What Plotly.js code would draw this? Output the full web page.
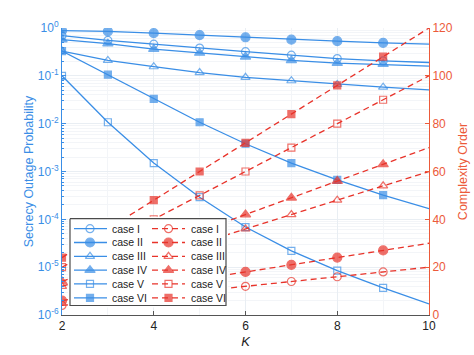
<!DOCTYPE html>
<html>
<head>
<meta charset="utf-8">
<script src="https://cdn.plot.ly/plotly-3.0.1.min.js"></script>
<style>html,body{margin:0;padding:0;background:#fff;}#chart{width:474px;height:355px;}</style>
</head>
<body>
<div id="chart"></div>
<script>
// ---- data ----
const K = [2, 3, 4, 5, 6, 7, 8, 9, 10];
const caseNames = ['case I', 'case II', 'case III', 'case IV', 'case V', 'case VI'];
// Secrecy outage probability (left, log axis)
const sopI   = [0.69, 0.55, 0.46, 0.38, 0.32, 0.27, 0.23, 0.205, 0.19];
const sopII  = [0.88, 0.85, 0.78, 0.71, 0.64, 0.57, 0.53, 0.49, 0.46];
const sopIII = [0.33, 0.21, 0.155, 0.117, 0.093, 0.079, 0.066, 0.058, 0.051];
const sopIV  = [0.57, 0.47, 0.36, 0.30, 0.25, 0.21, 0.185, 0.175, 0.16];
const sopV   = [0.1, 0.0107, 1.5e-3, 2.9e-4, 6.9e-5, 2.2e-5, 8.5e-6, 3.7e-6, 1.7e-6];
const sopVI  = [0.33, 0.106, 0.033, 0.0107, 3.8e-3, 1.5e-3, 6.7e-4, 3.2e-4, 1.67e-4];
// Complexity order (right, linear axis)
const cxI   = [4, 6, 8, 10, 12, 14, 16, 18, 20];
const cxII  = [6, 9, 12, 15, 18, 21, 24, 27, 30];
const cxIII = [12, 18, 24, 30, 36, 42, 48, 54, 60];
const cxIV  = [14, 21, 28, 35, 42, 49, 56, 63, 70];
const cxV   = [20, 30, 40, 50, 60, 70, 80, 90, 100];
const cxVI  = [24, 36, 48, 60, 72, 84, 96, 108, 120];
// left-axis tick labels
const sopTickVals = [1e-6, 1e-5, 1e-4, 1e-3, 1e-2, 1e-1, 1];
const sopTickText = ['10<sup>-6</sup>', '10<sup>-5</sup>', '10<sup>-4</sup>', '10<sup>-3</sup>', '10<sup>-2</sup>', '10<sup>-1</sup>', '10<sup>0</sup>'];

const sopSeries = [sopI, sopII, sopIII, sopIV, sopV, sopVI];
const cxSeries = [cxI, cxII, cxIII, cxIV, cxV, cxVI];
const symbols = ['circle-open', 'circle', 'triangle-up-open', 'triangle-up', 'square-open', 'square'];
const symSizes = [8, 9, 8, 9, 7, 7];

const BLUE = '#3a8ee6';
const RED = '#e8332a';
const RAXIS = '#ec5a3a';
const FONT = '"Liberation Sans", Arial, Helvetica, sans-serif';
const RED_DASH = '6px,4px';

// markers drawn at K = 2..9 only
function sizes(s) { return K.map(k => k < 10 ? s : 0); }

const traces = [];
for (let i = 0; i < 6; i++) {
  traces.push({
    x: K, y: sopSeries[i], name: caseNames[i] + ' (SOP)', xaxis: 'x', yaxis: 'y',
    type: 'scatter', mode: 'lines+markers', showlegend: false,
    line: {color: BLUE, width: 1.3},
    marker: {symbol: symbols[i], size: sizes(symSizes[i]), color: BLUE, line: {color: BLUE, width: 1.2}}
  });
  traces.push({
    x: K, y: cxSeries[i], name: caseNames[i] + ' (complexity)', xaxis: 'x', yaxis: 'y2',
    type: 'scatter', mode: 'lines+markers', showlegend: false,
    line: {color: RED, width: 1.3, dash: RED_DASH},
    marker: {symbol: symbols[i], size: sizes(symSizes[i]), color: RED, line: {color: RED, width: 1.2}}
  });
}

// ---- two-column legend drawn in a small inset axis (units: pixels inside the box) ----
const LEG_W = 156, LEG_H = 87, PAD = 2;
const PLOT_W = 367, PLOT_H = 287.5, LEG_X = 8, LEG_Y = 9.5;
// white legend box with border (drawn first in the inset so entries sit on top)
traces.push({
  x: [0, LEG_W, LEG_W, 0, 0], y: [0, 0, LEG_H, LEG_H, 0], xaxis: 'x3', yaxis: 'y3',
  type: 'scatter', mode: 'lines', fill: 'toself', fillcolor: '#ffffff',
  line: {color: '#4a4a4a', width: 1.2}, showlegend: false, hoverinfo: 'skip'
});
const legendAnn = [];
for (let i = 0; i < 6; i++) {
  const ry = 10 + i * 13.85;
  traces.push({
    x: [4, 20, 37], y: [ry, ry, ry], xaxis: 'x3', yaxis: 'y3', showlegend: false, hoverinfo: 'skip',
    type: 'scatter', mode: 'lines+markers', cliponaxis: false,
    line: {color: BLUE, width: 1.3},
    marker: {symbol: symbols[i], size: [0, symSizes[i], 0], color: BLUE, line: {color: BLUE, width: 1.2}}
  });
  traces.push({
    x: [82, 98.5, 115], y: [ry, ry, ry], xaxis: 'x3', yaxis: 'y3', showlegend: false, hoverinfo: 'skip',
    type: 'scatter', mode: 'lines+markers', cliponaxis: false,
    line: {color: RED, width: 1.3, dash: RED_DASH},
    marker: {symbol: symbols[i], size: [0, symSizes[i], 0], color: RED, line: {color: RED, width: 1.2}}
  });
  legendAnn.push({xref: 'x3', yref: 'y3', x: 40, y: ry, text: caseNames[i], showarrow: false,
    xanchor: 'left', yanchor: 'middle', font: {family: FONT, size: 10.5, color: '#222'}});
  legendAnn.push({xref: 'x3', yref: 'y3', x: 118.5, y: ry, text: caseNames[i], showarrow: false,
    xanchor: 'left', yanchor: 'middle', font: {family: FONT, size: 10.5, color: '#222'}});
}

const layout = {
  width: 474, height: 355,
  margin: {l: 62, r: 45, t: 28, b: 40},
  paper_bgcolor: '#fff', plot_bgcolor: '#fff',
  font: {family: FONT, size: 12, color: '#222'},
  showlegend: false,
  xaxis: {
    range: [2, 10], dtick: 2, tick0: 2, domain: [0, 1],
    showline: true, linecolor: '#555', linewidth: 1, mirror: false,
    ticks: 'inside', ticklen: 4, tickcolor: '#555',
    showgrid: true, gridcolor: '#e9eef3', gridwidth: 1, zeroline: false,
    minor: {dtick: 1, showgrid: true, gridcolor: '#f3f5f8'},
    tickfont: {size: 12, color: '#222'},
    title: {text: '<i>K</i>', font: {size: 13, color: '#222'}, standoff: 4}
  },
  yaxis: {
    type: 'log', range: [-6, 0], tickmode: 'array', tickvals: sopTickVals, ticktext: sopTickText,
    domain: [0, 1],
    showline: true, linecolor: BLUE, linewidth: 1,
    ticks: 'inside', ticklen: 4, tickcolor: BLUE,
    showgrid: true, gridcolor: '#e9eef3', zeroline: false,
    minor: {dtick: 'D1', ticks: 'inside', ticklen: 2, tickcolor: BLUE, showgrid: true, gridcolor: '#f3f5f8'},
    tickfont: {size: 12, color: BLUE},
    title: {text: 'Secrecy Outage Probability', font: {size: 12.5, color: BLUE}, standoff: 1}
  },
  yaxis2: {
    overlaying: 'y', side: 'right', range: [0, 120], dtick: 20,
    showline: true, linecolor: RAXIS, linewidth: 1,
    ticks: 'inside', ticklen: 4, tickcolor: RAXIS,
    showgrid: false, zeroline: false,
    tickfont: {size: 12, color: RAXIS},
    title: {text: 'Complexity Order', font: {size: 12.5, color: RAXIS}, standoff: 6}
  },
  xaxis3: {
    domain: [(LEG_X - PAD) / PLOT_W, (LEG_X + LEG_W + PAD) / PLOT_W], anchor: 'y3', range: [-PAD, LEG_W + PAD],
    visible: false, showgrid: false, zeroline: false, fixedrange: true
  },
  yaxis3: {
    domain: [(LEG_Y - PAD) / PLOT_H, (LEG_Y + LEG_H + PAD) / PLOT_H], anchor: 'x3', range: [LEG_H + PAD, -PAD],
    visible: false, showgrid: false, zeroline: false, fixedrange: true
  },
  annotations: legendAnn
};

Plotly.newPlot('chart', traces, layout, {displayModeBar: false, staticPlot: true});
</script>
</body>
</html>
